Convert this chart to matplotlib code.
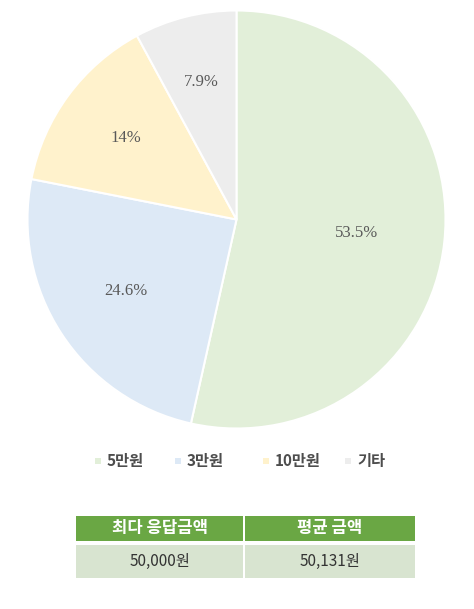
import numpy as np
import matplotlib
matplotlib.use("Agg")
import matplotlib.pyplot as plt
from matplotlib.patches import Rectangle

plt.rcParams['font.family'] = ['Noto Sans CJK KR', 'DejaVu Sans']

# data
labels = ['5만원', '3만원', '10만원', '기타']
shares = [53.5, 24.6, 14.0, 7.9]
share_text = ['53.5%', '24.6%', '14%', '7.9%']
colors = ['#e2efd9', '#dde9f6', '#fff2cc', '#ededed']
label_dist = [0.58, 0.63, 0.66, 0.68]

table_header = ['최다 응답금액', '평균 금액']
table_values = ['50,000원', '50,131원']

W, H = 474, 609
fig = plt.figure(figsize=(W / 100, H / 100), dpi=100)


def fx(px):
    return px / W


def fy(py):
    return 1 - py / H


# pie
cx, cy, r = 236.5, 219.5, 209
ax = fig.add_axes([fx(cx - r), fy(cy + r), 2 * r / W, 2 * r / H])
wedges, _ = ax.pie(shares, colors=colors, startangle=90, counterclock=False,
                   wedgeprops=dict(edgecolor='white', linewidth=1.5))
for w, txt, d in zip(wedges, share_text, label_dist):
    mid = np.deg2rad((w.theta1 + w.theta2) / 2)
    ax.text(d * np.cos(mid), d * np.sin(mid), txt, ha='center', va='center',
            fontsize=12, color='#595959', family='Liberation Serif')
ax.set_xlim(-1, 1)
ax.set_ylim(-1, 1)
ax.set_aspect('equal')
ax.axis('off')

# legend
leg_x = [95, 175, 263, 345]
leg_y = 461
for x, lab, c in zip(leg_x, labels, colors):
    fig.patches.append(Rectangle((fx(x), fy(leg_y + 3)), 6 / W, 6 / H,
                                 transform=fig.transFigure, facecolor=c,
                                 edgecolor='none'))
    fig.text(fx(x + 12), fy(leg_y), lab, ha='left', va='center',
             fontsize=11, fontweight='bold', color='#4d4d4d')

# table
left, mid_x, right = 76, 244, 415
rows = [(516, 541, '#6aa744', 'white', 'bold', 12, table_header),
        (545, 578, '#d8e4d0', '#333333', 'normal', 11, table_values)]
for top, bot, fc, tc, fw, fs, vals in rows:
    for (x0, x1), v in zip([(left, mid_x - 1), (mid_x + 1, right)], vals):
        fig.patches.append(Rectangle((fx(x0), fy(bot)), (x1 - x0) / W, (bot - top) / H,
                                     transform=fig.transFigure, facecolor=fc,
                                     edgecolor='none'))
        fig.text(fx((x0 + x1) / 2), fy((top + bot) / 2), v, ha='center', va='center',
                 fontsize=fs, fontweight=fw, color=tc)

fig.savefig('out.png', dpi=100, facecolor='white')
